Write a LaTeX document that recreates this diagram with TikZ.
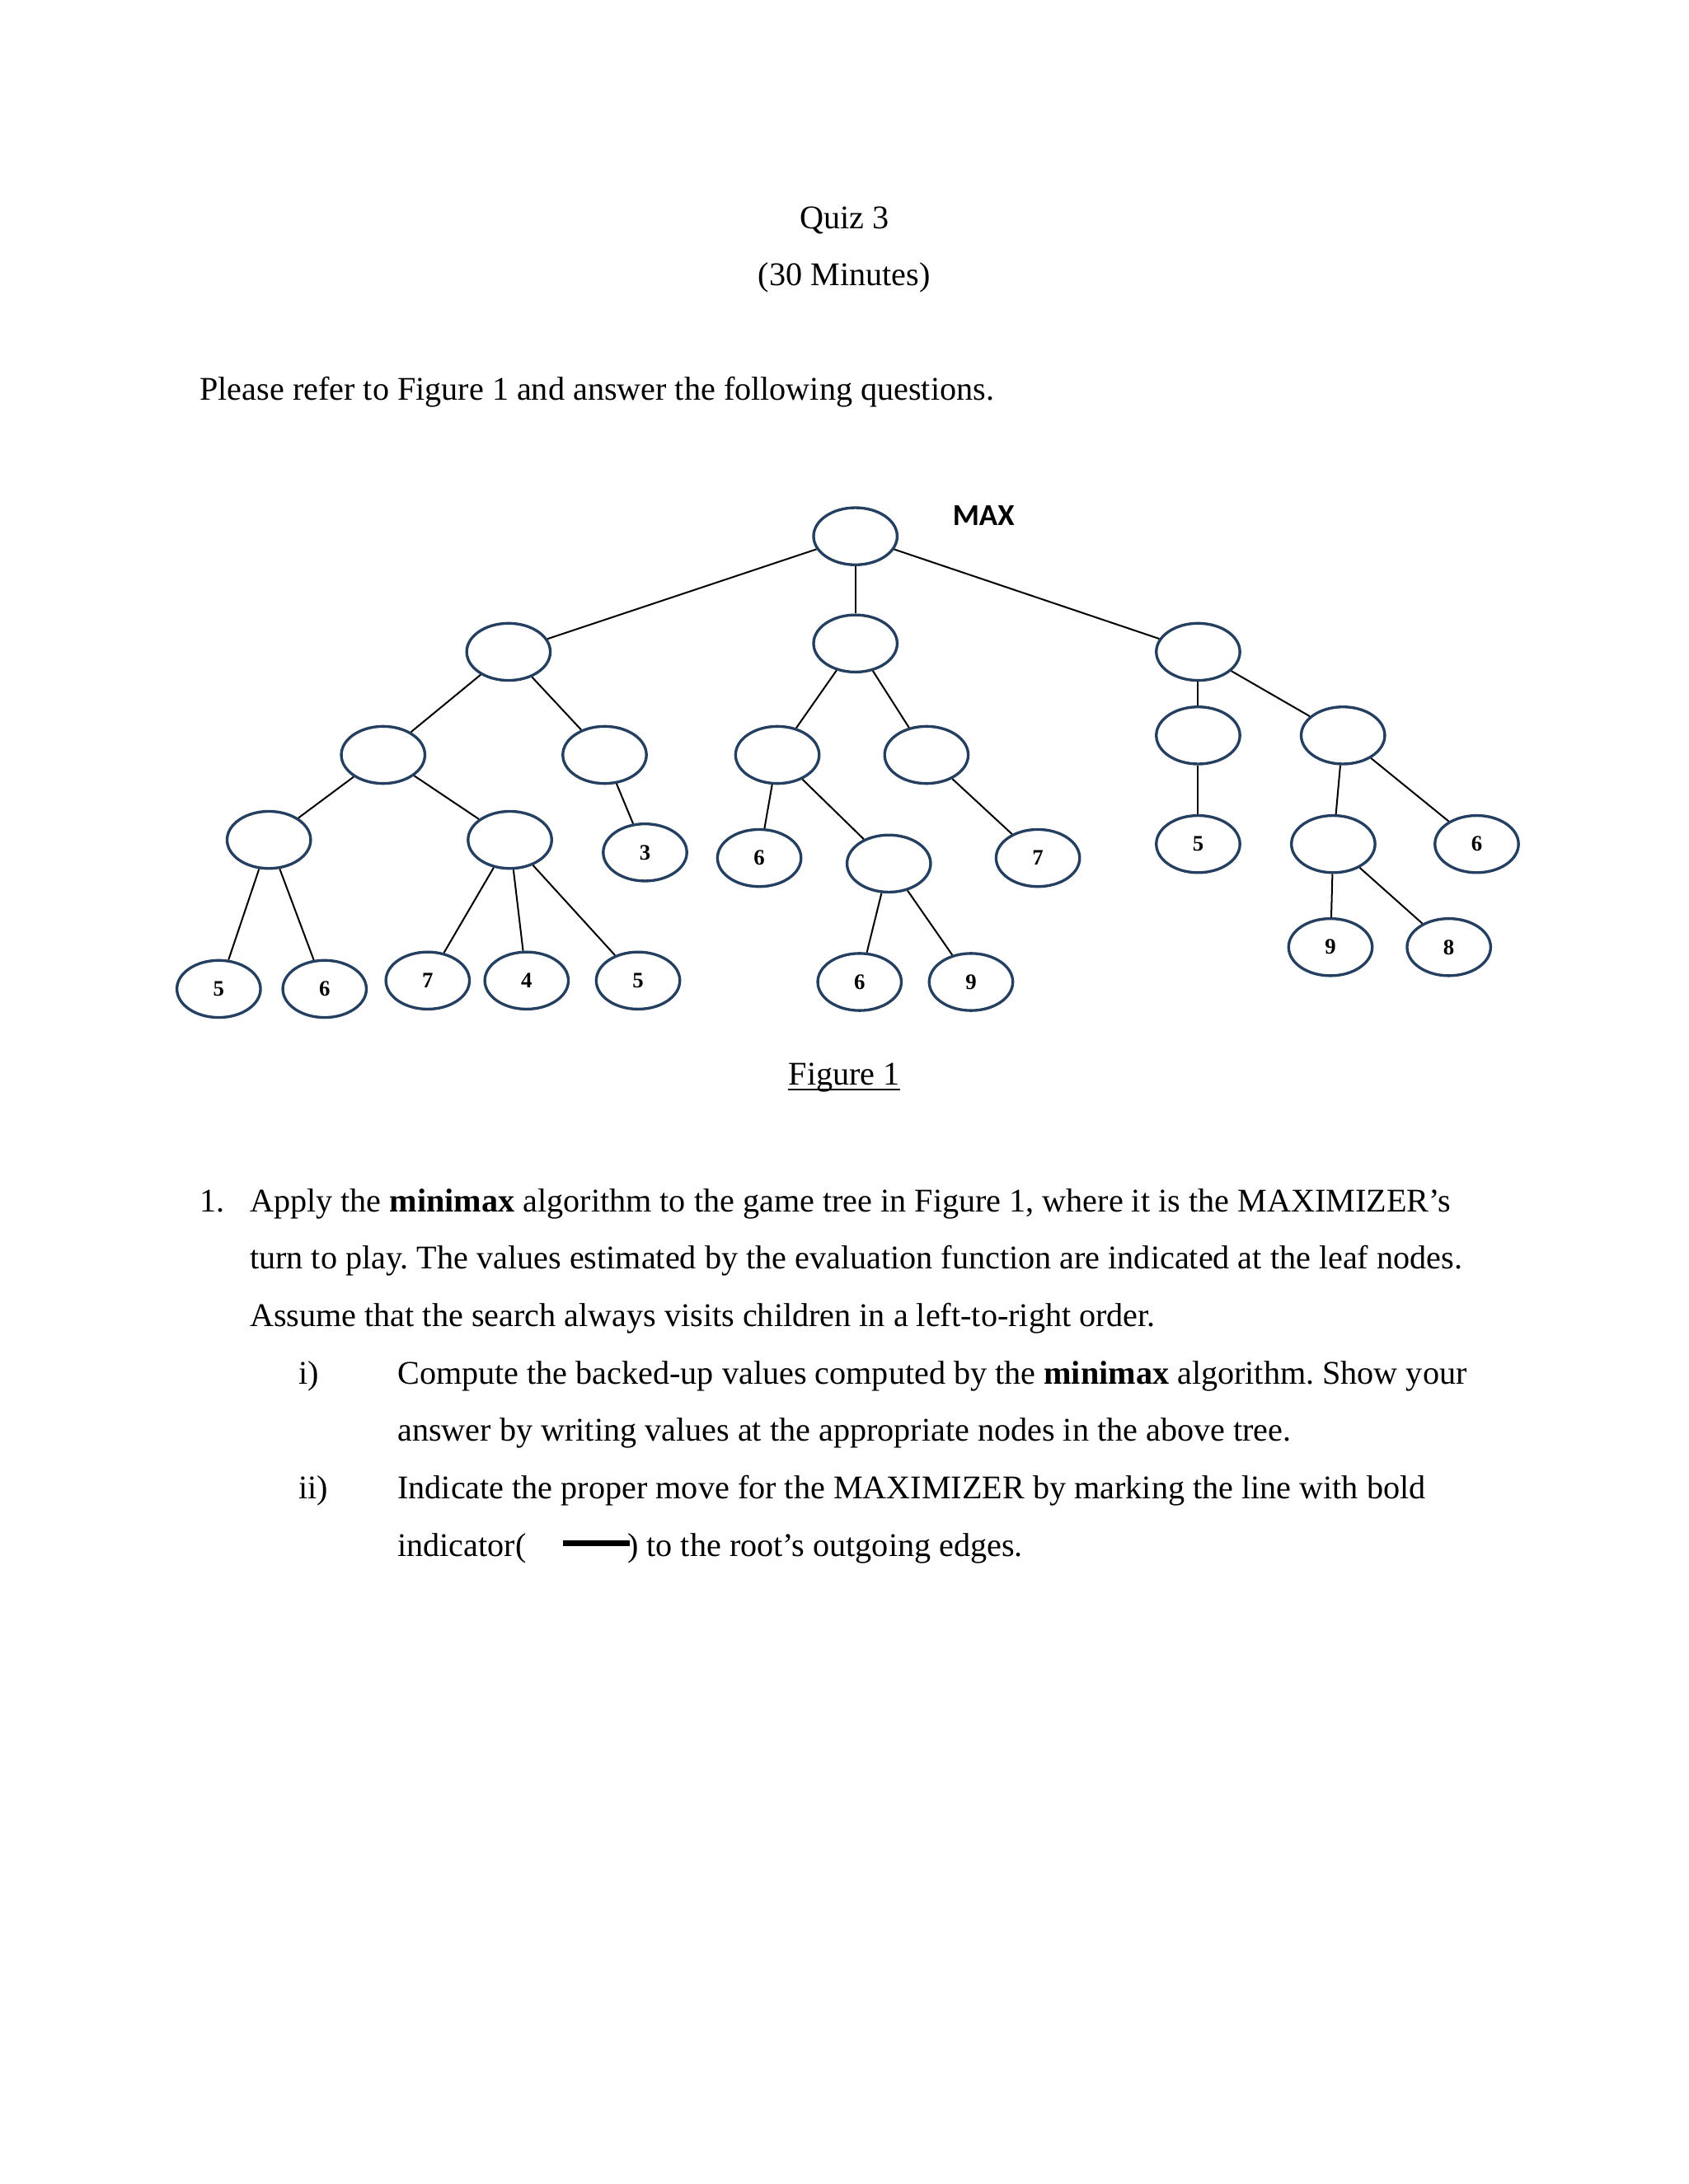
\documentclass[tikz,border=0pt]{standalone}
\usepackage{fontspec}
\setmainfont{Liberation Serif}
\newfontfamily\maxfont{Carlito}
\usepackage{xcolor}
\usepackage{tikz}
\usetikzlibrary{shapes.geometric,positioning,calc}
\definecolor{navy}{RGB}{36,63,96}
\frenchspacing

\tikzset{
  gnode/.style={ellipse, draw=navy, line width=1pt, minimum width=30.3pt, minimum height=20.7pt, inner sep=0pt, font=\fontsize{8}{8}\selectfont\bfseries},
  tline/.style={line width=0.6pt},
  txt/.style={anchor=base west, inner sep=0pt, font=\fontsize{12}{14}\selectfont}
}

\begin{document}
\begin{tikzpicture}[x=0.50495pt, y=-0.50495pt]
    \useasboundingbox (0,0) rectangle (1212,1568); % Letter page
    \fill[white] (0,0) rectangle (1212,1568);

    % Heading
    \node[txt, anchor=base] (title) at (606,164) {Quiz 3};
    \node[txt, anchor=base] (time) at (606,205) {(30 Minutes)};
    \node[txt] (intro) at (143,287) {Please refer to Figure 1 and answer the following questions.};

    % Game tree
    \node[gnode] (root) at (614,385) {};
    \node[inner sep=0pt, font=\maxfont\bfseries\fontsize{11}{11}\selectfont] (max) at (706,370) {MAX};

    \node[gnode] (a) at (365,468) {};
    \node[gnode] (b) at (614,462) {};
    \node[gnode] (c) at (860,468) {};

    \node[gnode] (a1) at (275,542) {};
    \node[gnode] (a2) at (434,542) {};
    \node[gnode] (b1) at (558,542) {};
    \node[gnode] (b2) at (665,542) {};
    \node[gnode] (c1) at (860,528) {};
    \node[gnode] (c2) at (964,528) {};

    \node[gnode] (a11) at (193,603) {};
    \node[gnode] (a12) at (366,603) {};
    \node[gnode] (a21) at (463,612) {3};
    \node[gnode] (b11) at (545,616) {6};
    \node[gnode] (b12) at (638,620) {};
    \node[gnode] (b21) at (745,616) {7};
    \node[gnode] (c11) at (860,606) {5};
    \node[gnode] (c21) at (957,606) {};
    \node[gnode] (c22) at (1060,606) {6};

    \node[gnode] (a111) at (157,710) {5};
    \node[gnode] (a112) at (233,710) {6};
    \node[gnode] (a121) at (307,704) {7};
    \node[gnode] (a122) at (378,704) {4};
    \node[gnode] (a123) at (458,704) {5};
    \node[gnode] (b121) at (617,705) {6};
    \node[gnode] (b122) at (697,705) {9};
    \node[gnode] (c211) at (955,680) {9};
    \node[gnode] (c212) at (1040,680) {8};

    % Edges
    \draw[tline] (root) -- (a);
    \draw[tline] (root) -- (b);
    \draw[tline] (root) -- (c);
    \draw[tline] (a) -- (a1);
    \draw[tline] (a) -- (a2);
    \draw[tline] (b) -- (b1);
    \draw[tline] (b) -- (b2);
    \draw[tline] (c) -- (c1);
    \draw[tline] (c) -- (c2);
    \draw[tline] (a1) -- (a11);
    \draw[tline] (a1) -- (a12);
    \draw[tline] (a2) -- (a21);
    \draw[tline] (b1) -- (b11);
    \draw[tline] (b1) -- (b12);
    \draw[tline] (b2) -- (b21);
    \draw[tline] (c1) -- (c11);
    \draw[tline] (c2) -- (c21);
    \draw[tline] (c2) -- (c22);
    \draw[tline] (a11) -- (a111);
    \draw[tline] (a11) -- (a112);
    \draw[tline] (a12) -- (a121);
    \draw[tline] (a12) -- (a122);
    \draw[tline] (a12) -- (a123);
    \draw[tline] (b12) -- (b121);
    \draw[tline] (b12) -- (b122);
    \draw[tline] (c21) -- (c211);
    \draw[tline] (c21) -- (c212);

    % Caption
    \node[txt, anchor=base] (fig) at (606,779) {Figure 1};
    \draw[line width=0.6pt] ([yshift=-1.6pt]fig.base west) -- ([yshift=-1.6pt]fig.base east);

    % Question
    \node[txt] (q1) at (143,870) {1.};
    \node[txt] (q1a) at (179,870) {Apply the \textbf{minimax} algorithm to the game tree in Figure 1, where it is the MAXIMIZER’s};
    \node[txt] (q1b) at (179,911.2) {turn to play. The values estimated by the evaluation function are indicated at the leaf nodes.};
    \node[txt] (q1c) at (179,952.4) {Assume that the search always visits children in a left-to-right order.};
    \node[txt] (s1) at (214,993.6) {i)};
    \node[txt] (s1a) at (285,993.6) {Compute the backed-up values computed by the \textbf{minimax} algorithm. Show your};
    \node[txt] (s1b) at (285,1034.8) {answer by writing values at the appropriate nodes in the above tree.};
    \node[txt] (s2) at (214,1076) {ii)};
    \node[txt] (s2a) at (285,1076) {Indicate the proper move for the MAXIMIZER by marking the line with bold};
    \node[txt] (s2b) at (285,1117.2) {indicator(};
    \draw[line width=2pt] (404,1108) -- (452,1108); % bold indicator
    \node[txt] (s2c) at (450,1117.2) {) to the root’s outgoing edges.};
\end{tikzpicture}
\end{document}
